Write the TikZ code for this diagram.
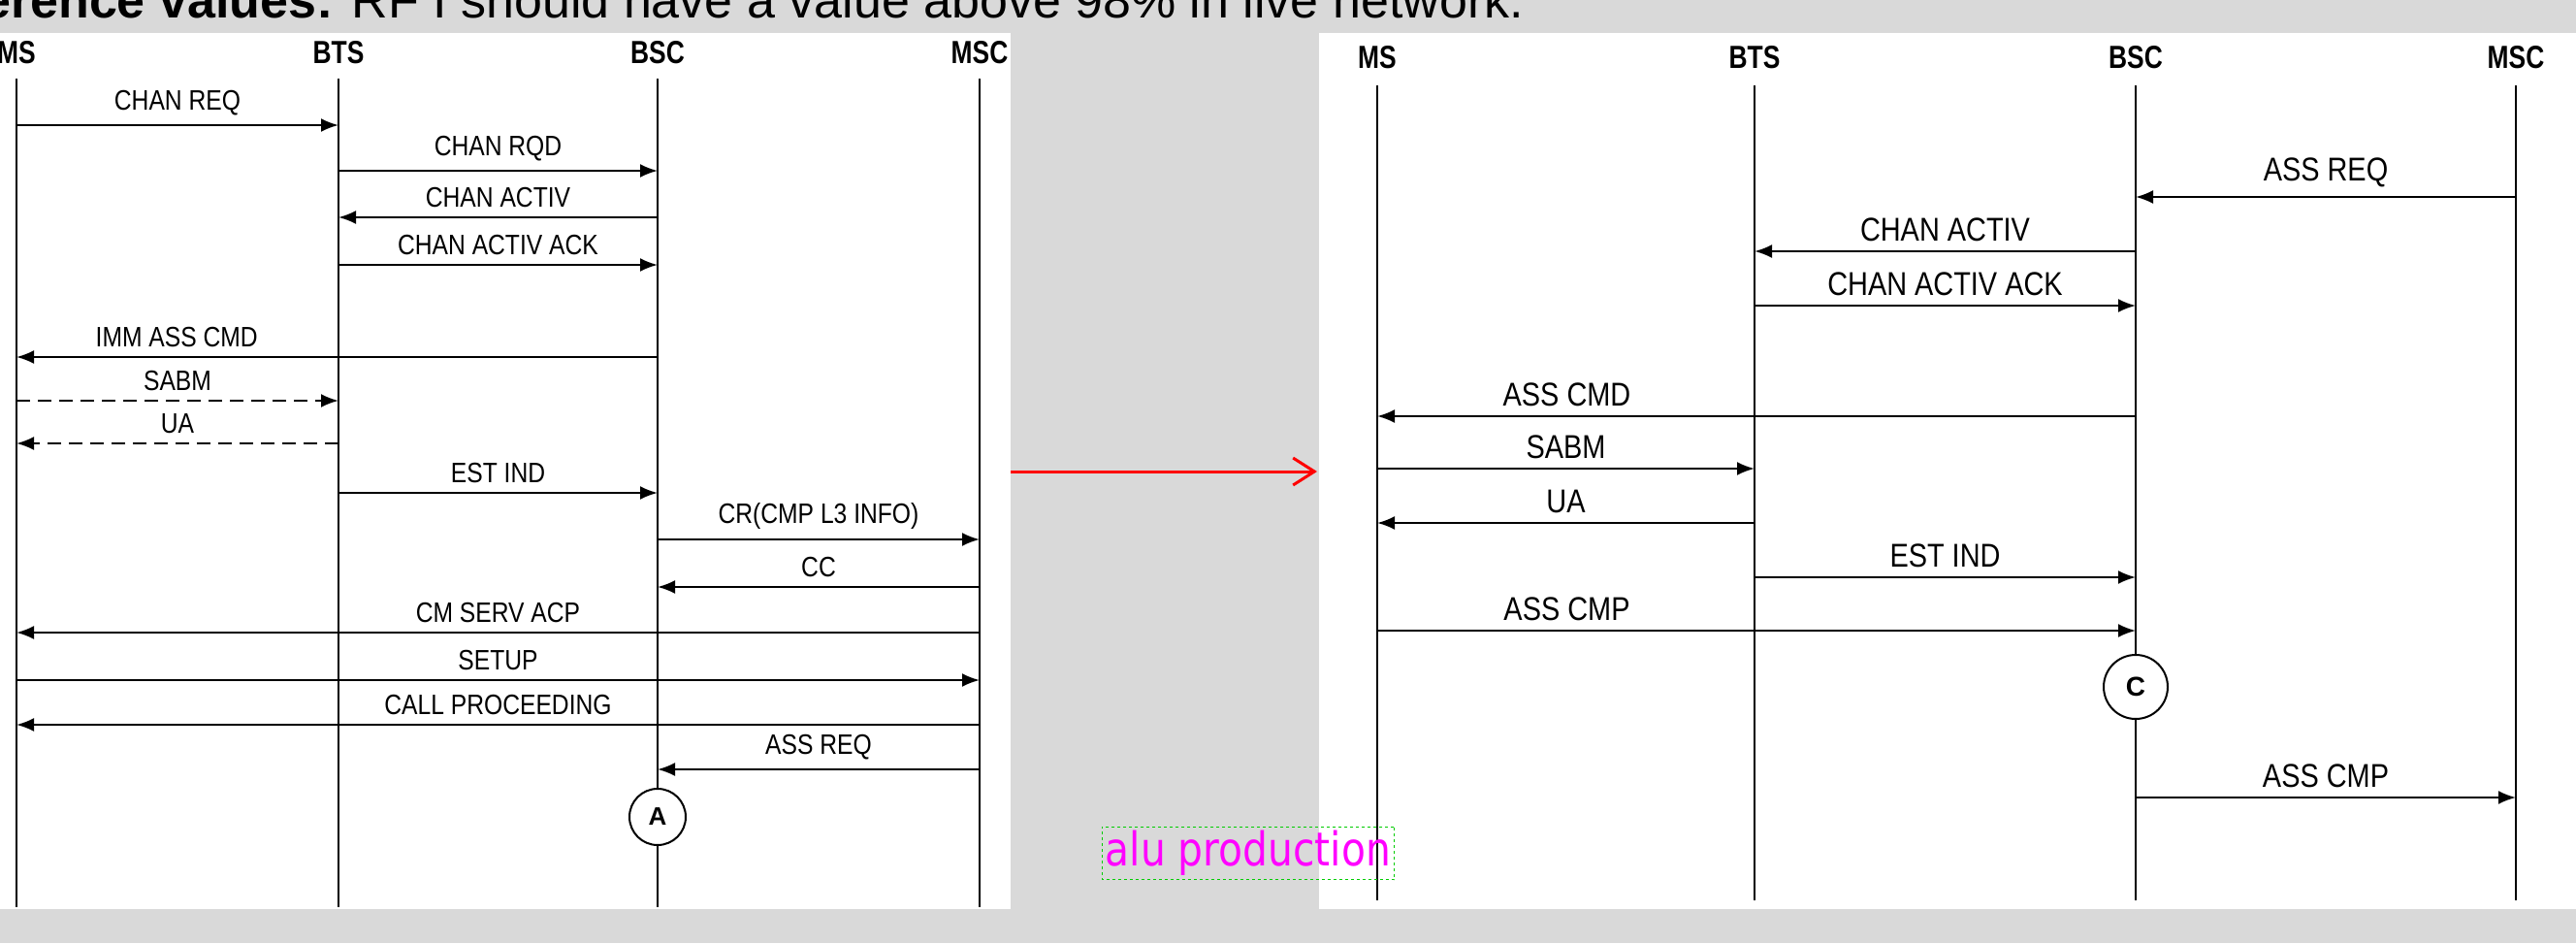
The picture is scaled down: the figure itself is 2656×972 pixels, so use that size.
\documentclass[tikz,border=0pt]{standalone}
\usepackage{fontspec}
\setmainfont{Liberation Sans}
\newfontfamily\alufont{DejaVu Sans}
\usetikzlibrary{arrows.meta}
\definecolor{alu}{RGB}{255,0,255}
\begin{document}
\begin{tikzpicture}[x=1pt,y=-1pt,
  msg/.style={line width=2.2pt,-{Latex[length=18pt,width=14pt]}},
  lifeline/.style={line width=2pt},
  lbl/.style={midway,above,font=\fontsize{29}{29}\selectfont,inner sep=9pt,xscale=0.85},
  head/.style={font=\bfseries\fontsize{33}{33}\selectfont,xscale=0.8}]
\useasboundingbox (0,0) rectangle (2656,972);
\fill[gray!30] (0,0) rectangle (2656,972);
\fill[white] (0,34) rectangle (1042,937);
\fill[white] (1360,34) rectangle (2656,937);
\node[anchor=base west,inner sep=0,font=\fontsize{52}{52}\selectfont] (title) at (-18,18) {\textbf{erence values:} RF I should have a value above 98\% in live network.};
% left panel
\foreach \n/\x/\t in {MS/17/MS,BTS/349/BTS,BSC/678/BSC,MSC/1010/MSC}{
  \node[head] (Lh\n) at (\x,54) {\t};
  \coordinate (L\n) at (\x,81);
  \coordinate (Lb\n) at (\x,935);
  \draw[lifeline] (L\n) -- (Lb\n);
}
\newcommand\lm[4]{\draw[msg,#4] (L#1|-0,#3) -- (L#2|-0,#3)}
\lm{MS}{BTS}{129}{} node[lbl]{CHAN REQ};
\lm{BTS}{BSC}{176}{} node[lbl]{CHAN RQD};
\lm{BSC}{BTS}{224}{} node[lbl]{CHAN ACTIV};
\lm{BTS}{BSC}{273}{} node[lbl]{CHAN ACTIV ACK};
\lm{BSC}{MS}{368}{} node[lbl,pos=0.75]{IMM ASS CMD};
\lm{MS}{BTS}{413}{dash pattern=on 14pt off 8pt} node[lbl]{SABM};
\lm{BTS}{MS}{457}{dash pattern=on 14pt off 8pt} node[lbl]{UA};
\lm{BTS}{BSC}{508}{} node[lbl]{EST IND};
\lm{BSC}{MSC}{556}{} node[lbl]{CR(CMP L3 INFO)};
\lm{MSC}{BSC}{605}{} node[lbl]{CC};
\lm{MSC}{MS}{652}{} node[lbl]{CM SERV ACP};
\lm{MS}{MSC}{701}{} node[lbl]{SETUP};
\lm{MSC}{MS}{747}{} node[lbl]{CALL PROCEEDING};
\lm{MSC}{BSC}{793}{} node[lbl]{ASS REQ};
\node[draw,line width=2pt,circle,fill=white,minimum size=58pt,inner sep=0,font=\bfseries\fontsize{26}{26}\selectfont] (A) at (678,842) {A};
% red arrow
\coordinate (r1) at (1042,486);
\coordinate (r2) at (1358,486);
\draw[red,line width=3pt,-{Straight Barb[length=22pt,width=28pt]}] (r1) -- (r2);
% right panel
\foreach \n/\x/\t in {MS/1420/MS,BTS/1809/BTS,BSC/2202/BSC,MSC/2594/MSC}{
  \node[head] (Rh\n) at (\x,59) {\t};
  \coordinate (R\n) at (\x,88);
  \coordinate (Rb\n) at (\x,928);
  \draw[lifeline] (R\n) -- (Rb\n);
}
\tikzset{rlbl/.style={lbl,font=\fontsize{34}{34}\selectfont}}
\newcommand\rmm[3]{\draw[msg] (R#1|-0,#3) -- (R#2|-0,#3)}
\rmm{MSC}{BSC}{203} node[rlbl]{ASS REQ};
\rmm{BSC}{BTS}{259} node[rlbl]{CHAN ACTIV};
\rmm{BTS}{BSC}{315} node[rlbl]{CHAN ACTIV ACK};
\rmm{BSC}{MS}{429} node[rlbl,pos=0.75]{ASS CMD};
\rmm{MS}{BTS}{483} node[rlbl]{SABM};
\rmm{BTS}{MS}{539} node[rlbl]{UA};
\rmm{BTS}{BSC}{595} node[rlbl]{EST IND};
\rmm{MS}{BSC}{650} node[rlbl,pos=0.25]{ASS CMP};
\node[draw,line width=2pt,circle,fill=white,minimum size=66pt,inner sep=0,font=\bfseries\fontsize{28}{28}\selectfont] (C) at (2202,708) {C};
\rmm{BSC}{MSC}{822} node[rlbl]{ASS CMP};
% watermark
\node[anchor=north west,draw=green!80!black,dashed,line width=1pt,text=alu,font=\alufont\fontsize{48}{48}\selectfont,inner sep=4pt,xscale=0.85] (alu) at (1136,852) {alu production};
\end{tikzpicture}
\end{document}
